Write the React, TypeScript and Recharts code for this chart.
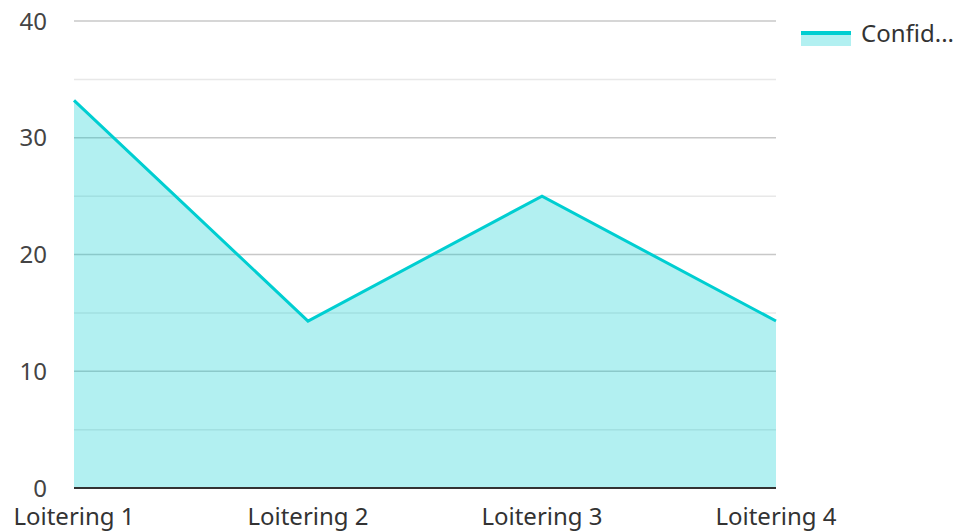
import React from "react";
import { ComposedChart, Area, XAxis, YAxis, CartesianGrid } from "recharts";

const categories = ["Loitering 1", "Loitering 2", "Loitering 3", "Loitering 4"];
const confidence = [33.2, 14.3, 25.0, 14.3];
const gridTicks = [0, 5, 10, 15, 20, 25, 30, 35, 40];
const seriesName = "Confid...";

const data = categories.map((c, i) => ({ name: c, value: confidence[i] }));

const FONT = "'Noto Sans', sans-serif";
const COLOR = "#00CED1";

const YTick = (props: any) => {
  const { x, y, payload } = props;
  if (payload.value % 10 !== 0) return null;
  return (
    <text x={x} y={y} dy="0.355em" textAnchor="end" fill="#444" fontSize={24} fontFamily={FONT}>
      {payload.value}
    </text>
  );
};

const gridLine = (props: any) => {
  const { x1, x2, y1, y2, index } = props;
  const major = index % 2 === 0;
  return (
    <line key={`g-${index}`} x1={x1} x2={x2} y1={y1} y2={y2} stroke={major ? "#c8c8c8" : "#e8e8e8"} strokeWidth={1.5} />
  );
};

export default function App() {
  return (
    <div style={{ position: "absolute", left: 0, top: 0, width: 958, height: 531, background: "#fff", fontFamily: FONT }}>
      <ComposedChart width={958} height={531} data={data} margin={{ top: 21, right: 182, bottom: 0, left: 0 }}>
        <CartesianGrid vertical={false} horizontal={gridLine} />
        <XAxis
          dataKey="name"
          axisLine={{ stroke: "#333", strokeWidth: 2 }}
          tickLine={false}
          tickSize={0}
          tickMargin={20}
          height={43}
          interval={0}
          tick={{ fill: "#333", fontSize: 24, fontFamily: FONT }}
        />
        <YAxis
          domain={[0, 40]}
          ticks={gridTicks}
          interval={0}
          width={74}
          axisLine={false}
          tickLine={false}
          tickSize={0}
          tickMargin={27}
          tick={<YTick />}
        />
        <Area
          type="linear"
          dataKey="value"
          name={seriesName}
          stroke={COLOR}
          strokeWidth={3}
          fill={COLOR}
          fillOpacity={0.3}
          isAnimationActive={false}
          dot={false}
          activeDot={false}
        />
      </ComposedChart>
      <div style={{ position: "absolute", left: 801, top: 20, display: "flex", alignItems: "center" }}>
        <div style={{ width: 50, height: 15, position: "relative", marginTop: 10 }}>
          <div style={{ position: "absolute", left: 0, top: 0, width: 50, height: 4, background: COLOR }} />
          <div style={{ position: "absolute", left: 0, top: 4, width: 50, height: 11, background: COLOR, opacity: 0.3 }} />
        </div>
        <span style={{ marginLeft: 10, fontSize: 24, color: "#333", fontFamily: FONT, lineHeight: "26px" }}>{seriesName}</span>
      </div>
    </div>
  );
}
